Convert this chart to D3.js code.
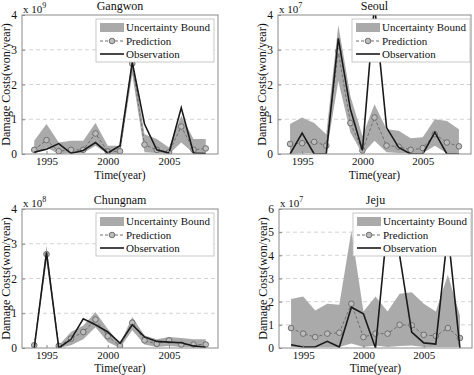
<!DOCTYPE html>
<html>
<head>
<meta charset="utf-8">
<script src="https://cdn.jsdelivr.net/npm/d3@7"></script>
<style>
  body { margin: 0; background: #fff; }
  svg text { font-family: "Liberation Serif", "Times New Roman", "DejaVu Serif", serif; fill: #111; }
</style>
</head>
<body>
<svg id="chart" width="474" height="375"></svg>
<script>
// years 1994 - 2008
const years = d3.range(1994, 2009);
const xTicks = [1995, 2000, 2005];

// Gangwon (x 10^9)
const gwPred = [0.12, 0.40, 0.08, 0.12, 0.12, 0.59, 0.07, 0.08, 2.60, 0.27, 0.12, 0.05, 0.79, 0.12, 0.16];
const gwObs  = [0.05, 0.14, 0.30, 0.02, 0.10, 0.33, 0.03, 0.24, 2.64, 0.86, 0.12, 0.03, 1.33, 0.03, 0.02];
const gwUp   = [0.38, 0.86, 0.33, 0.38, 0.38, 0.89, 0.24, 0.24, 2.78, 0.57, 0.43, 0.19, 1.10, 0.43, 0.43];
const gwLo   = [0.00, 0.19, 0.00, 0.03, 0.03, 0.24, 0.00, 0.00, 2.29, 0.05, 0.03, 0.00, 0.33, 0.03, 0.05];

// Seoul (x 10^7)
const soPred = [0.29, 0.31, 0.35, 0.24, 2.95, 0.89, 0.10, 1.05, 0.24, 0.21, 0.12, 0.17, 0.57, 0.33, 0.22];
const soObs  = [0.00, 0.60, 0.00, 0.00, 3.33, 1.29, 0.10, 4.30, 0.76, 0.19, 0.00, 0.00, 0.62, 0.00, 0.00];
const soUp   = [0.86, 1.05, 0.89, 0.57, 3.71, 1.67, 0.52, 1.43, 0.71, 0.67, 0.45, 0.48, 1.00, 0.95, 0.71];
const soLo   = [0.00, 0.03, 0.03, 0.00, 2.10, 0.62, 0.00, 0.38, 0.05, 0.03, 0.02, 0.02, 0.24, 0.02, 0.02];

// Chungnam (x 10^8)
const cnPred = [0.08, 2.70, 0.06, 0.27, 0.46, 0.82, 0.34, 0.06, 0.73, 0.22, 0.12, 0.22, 0.10, 0.10, 0.10];
const cnObs  = [0.00, 2.75, 0.00, 0.25, 0.84, 0.67, 0.46, 0.14, 0.67, 0.32, 0.19, 0.17, 0.15, 0.06, 0.02];
const cnUp   = [0.05, 2.95, 0.08, 0.46, 0.65, 1.03, 0.55, 0.12, 0.89, 0.36, 0.25, 0.32, 0.29, 0.25, 0.25];
const cnLo   = [0.00, 2.47, 0.00, 0.08, 0.25, 0.60, 0.17, 0.00, 0.51, 0.10, 0.03, 0.06, 0.03, 0.02, 0.02];

// Jeju (x 10^7)
const jjPred = [0.86, 0.62, 0.47, 0.62, 0.66, 1.91, 0.47, 0.62, 0.62, 1.00, 0.98, 0.57, 0.52, 0.86, 0.43];
const jjObs  = [0.14, 0.04, 0.04, 0.29, 0.04, 1.76, 1.48, 0.00, 5.40, 4.00, 0.69, 0.22, 0.17, 5.00, 0.00];
const jjUp   = [2.12, 2.22, 1.62, 1.91, 1.87, 5.05, 1.58, 2.22, 1.58, 2.34, 2.41, 1.91, 1.58, 3.16, 1.40];
const jjLo   = [0.04, 0.04, 0.04, 0.04, 0.04, 0.19, 0.04, 0.11, 0.04, 0.09, 0.11, 0.04, 0.04, 0.04, 0.04];

const legendLabels = ["Uncertainty Bound", "Prediction", "Observation"];

const panels = [
  { title: "Gangwon",  exp: "9", ymax: 4, yTicks: [0, 1, 2, 3, 4], pred: gwPred, obs: gwObs, up: gwUp, lo: gwLo,
    box: { l: 22, r: 218, t: 15, b: 154 } },
  { title: "Seoul",    exp: "7", ymax: 4, yTicks: [0, 1, 2, 3, 4], pred: soPred, obs: soObs, up: soUp, lo: soLo,
    box: { l: 278, r: 471, t: 15, b: 154 } },
  { title: "Chungnam", exp: "8", ymax: 4, yTicks: [0, 1, 2, 3, 4], pred: cnPred, obs: cnObs, up: cnUp, lo: cnLo,
    box: { l: 22, r: 218, t: 209, b: 348 } },
  { title: "Jeju",     exp: "7", ymax: 6, yTicks: [0, 1, 2, 3, 4, 5, 6], pred: jjPred, obs: jjObs, up: jjUp, lo: jjLo,
    box: { l: 279, r: 472, t: 209, b: 348 } },
];

const svg = d3.select("#chart");
const frameColor = "#8a8a8a";

panels.forEach((p, i) => {
  const b = p.box;
  const x = d3.scaleLinear().domain([1993, 2009]).range([b.l, b.r]);
  const y = d3.scaleLinear().domain([0, p.ymax]).range([b.b, b.t]);
  const g = svg.append("g");

  const clipId = "clip" + i;
  g.append("clipPath").attr("id", clipId)
    .append("rect").attr("x", b.l).attr("y", b.t).attr("width", b.r - b.l).attr("height", b.b - b.t);

  // 虛線格線
  g.selectAll(".grid")
    .data(p.yTicks.filter(v => v > 0 && v < p.ymax))
    .join("line")
    .attr("x1", b.l).attr("x2", b.r)
    .attr("y1", d => y(d)).attr("y2", d => y(d))
    .attr("stroke", "#c8c8c8").attr("stroke-width", 0.8)
    .attr("stroke-dasharray", "4,3");

  const plot = g.append("g").attr("clip-path", `url(#${clipId})`);

  // uncertainty band
  const area = d3.area()
    .x((d, j) => x(years[j]))
    .y0((d, j) => y(p.lo[j]))
    .y1((d, j) => y(p.up[j]));
  plot.append("path").datum(p.up).attr("d", area).attr("fill", "#aaaaaa");

  // prediction
  const line = d3.line().x((d, j) => x(years[j])).y(d => y(d));
  plot.append("path").datum(p.pred).attr("d", line)
    .attr("fill", "none").attr("stroke", "#6e6e6e").attr("stroke-width", 1)
    .attr("stroke-dasharray", "3,2");
  plot.selectAll("circle").data(p.pred).join("circle")
    .attr("cx", (d, j) => x(years[j])).attr("cy", d => y(d)).attr("r", 2.8)
    .attr("fill", "#bdbdbd").attr("stroke", "#6e6e6e").attr("stroke-width", 1);

  // observation
  plot.append("path").datum(p.obs).attr("d", line)
    .attr("fill", "none").attr("stroke", "#1a1a1a").attr("stroke-width", 1.6);

  // frame
  g.append("rect").attr("x", b.l).attr("y", b.t)
    .attr("width", b.r - b.l).attr("height", b.b - b.t)
    .attr("fill", "none").attr("stroke", frameColor).attr("stroke-width", 1);

  // x axis
  const xAxis = d3.axisBottom(x).tickValues(xTicks).tickSize(-3).tickPadding(3).tickFormat(d3.format("d"));
  const xg = g.append("g").attr("transform", `translate(0,${b.b})`).call(xAxis);
  xg.select(".domain").remove();
  xg.selectAll("line").attr("stroke", frameColor);
  xg.selectAll("text").attr("font-size", 11);

  // y axis
  const yAxis = d3.axisLeft(y).tickValues(p.yTicks).tickSize(-3).tickPadding(5).tickFormat(d3.format("d"));
  const yg = g.append("g").attr("transform", `translate(${b.l},0)`).call(yAxis);
  yg.select(".domain").remove();
  yg.selectAll("line").attr("stroke", frameColor);
  yg.selectAll("text").attr("font-size", 11.5);

  // exponent label
  const ex = g.append("text").attr("x", b.l + 1).attr("y", b.t - 2).attr("font-size", 11);
  ex.append("tspan").text("x 10");
  ex.append("tspan").attr("dy", -5).attr("font-size", 8).text(p.exp);

  // title
  g.append("text").attr("x", (b.l + b.r) / 2).attr("y", b.t - 5)
    .attr("text-anchor", "middle").attr("font-size", 12).text(p.title);

  // axis labels
  g.append("text").attr("x", (b.l + b.r) / 2).attr("y", Math.min(b.b + 25, 372))
    .attr("text-anchor", "middle").attr("font-size", 11.5).text("Time(year)");
  g.append("text")
    .attr("transform", `translate(${b.l - 12},${(b.t + b.b) / 2}) rotate(-90)`)
    .attr("text-anchor", "middle").attr("font-size", 12).text("Damage Costs(won/year)");

  // legend
  const lx = b.l + 74, ly = b.t + 4;
  const lg = g.append("g").attr("transform", `translate(${lx},${ly})`);
  lg.append("rect").attr("width", 118).attr("height", 43)
    .attr("fill", "#fff").attr("stroke", "#bbbbbb").attr("stroke-width", 0.8);
  lg.append("rect").attr("x", 4).attr("y", 4).attr("width", 24).attr("height", 9).attr("fill", "#aaaaaa");
  lg.append("line").attr("x1", 4).attr("x2", 28).attr("y1", 22).attr("y2", 22)
    .attr("stroke", "#6e6e6e").attr("stroke-dasharray", "3,2");
  lg.append("circle").attr("cx", 16).attr("cy", 22).attr("r", 2.8)
    .attr("fill", "#bdbdbd").attr("stroke", "#6e6e6e");
  lg.append("line").attr("x1", 4).attr("x2", 28).attr("y1", 35).attr("y2", 35)
    .attr("stroke", "#1a1a1a").attr("stroke-width", 1.6);
  lg.selectAll(".lt").data(legendLabels).join("text")
    .attr("x", 30).attr("y", (d, j) => 12 + j * 13.5)
    .attr("font-size", 11).text(d => d);
});
</script>
</body>
</html>
